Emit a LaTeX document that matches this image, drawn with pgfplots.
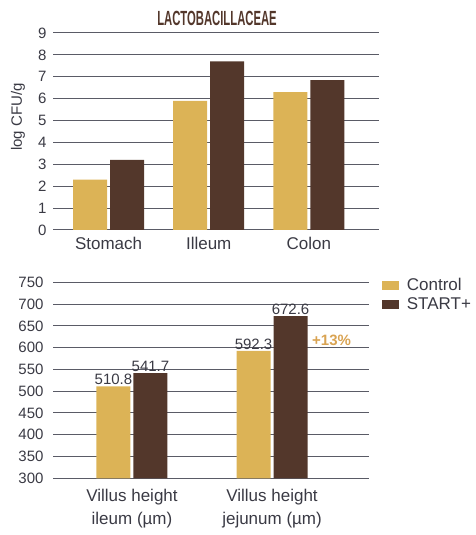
\documentclass[border=0pt]{standalone}
\usepackage{pgfplots}
\pgfplotsset{compat=1.18}
\usepackage{fontspec}
\setmainfont{Liberation Sans}

\definecolor{goldc}{HTML}{DCB356}
\definecolor{brownc}{HTML}{53372B}
\definecolor{gridc}{HTML}{5A5B66}
\definecolor{textc}{HTML}{3A3A44}
\definecolor{pctc}{HTML}{D9A352}

\pgfplotsset{
    barchart/.style={
        scale only axis,
        anchor=south west,
        ybar,
        bar width=34pt,
        axis line style={draw=none},
        major tick length=0pt,
        ymajorgrids,
        grid style={color=gridc, line width=1pt},
        tick label style={font=\fontsize{15}{18}\selectfont, text=textc},
        /pgf/number format/assume math mode=true,
        clip=false,
    },
}

\begin{document}
\begin{tikzpicture}[x=1pt,y=1pt]
    \useasboundingbox (0,0) rectangle (475,535);

    % top chart
    \begin{axis}[
            barchart,
            at={(53pt,305pt)},
            width=326pt, height=197pt,
            xmin=-0.555, xmax=2.70,
            ymin=0, ymax=9,
            xtick={0,1,2},
            xticklabels={Stomach,Illeum,Colon},
            xticklabel style={font=\fontsize{17}{20}\selectfont, yshift=-4pt},
            yticklabel style={xshift=-3pt},
            ytick={0,1,...,9},
        ]
        \addplot[fill=goldc, draw=none, bar shift=-18.5pt] coordinates {
                (0,2.3) (1,5.9) (2,6.3)
            };
        \addplot[fill=brownc, draw=none, bar shift=18.5pt] coordinates {
                (0,3.2) (1,7.7) (2,6.85)
            };
    \end{axis}
    \node[rotate=90, text=textc, font=\fontsize{15}{18}\selectfont] at (18,418) {log CFU/g};
    \node[text=brownc, font=\fontsize{20.5}{22}\selectfont\bfseries, xscale=0.55] at (217,517) {LACTOBACILLACEAE};

    % bottom chart
    \begin{axis}[
            barchart,
            at={(53pt,56.7pt)},
            width=315.7pt, height=196pt,
            xmin=-0.564, xmax=1.69,
            ymin=300, ymax=750,
            xtick={0,1},
            xticklabels={Villus height\\ileum (µm), Villus height\\jejunum (µm)},
            xticklabel style={align=center, font=\fontsize{17}{23}\selectfont, yshift=-7pt},
            yticklabel style={xshift=-6pt},
            ytick={300,350,...,750},
            nodes near coords,
            nodes near coords style={font=\fontsize{15}{18}\selectfont, text=textc, inner sep=1.5pt,
                /pgf/number format/.cd, fixed, precision=1, fixed zerofill, assume math mode=true},
            legend style={at={(1,1)}, anchor=north west, xshift=13pt, yshift=4pt,
                draw=none, fill=none, font=\fontsize{17}{20}\selectfont, text=textc,
                row sep=5pt, column sep=8pt, inner sep=0pt, nodes={inner sep=0pt}},
            legend image code/.code={\fill[#1] (0pt,-4.5pt) rectangle (17pt,4.5pt);},
            legend cell align=left,
        ]
        \addplot[fill=goldc, draw=none, bar shift=-18.5pt] coordinates {
                (0,510.8) (1,592.3)
            };
        \addplot[fill=brownc, draw=none, bar shift=18.5pt] coordinates {
                (0,541.7) (1,672.6)
            };
        \legend{Control, START+}
        \node[text=pctc, font=\fontsize{15}{18}\selectfont\bfseries] at (axis cs:1.425,617) {+13\%};
    \end{axis}
\end{tikzpicture}
\end{document}
